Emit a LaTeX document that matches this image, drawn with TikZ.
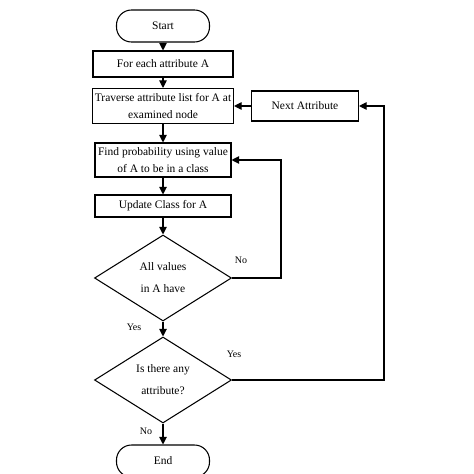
\documentclass[tikz,border=0pt]{standalone}
\usepackage{fontspec}
\setmainfont{Liberation Serif}
\usetikzlibrary{arrows.meta,shapes.geometric}

\begin{document}
\begin{tikzpicture}[x=0.03cm,y=-0.03cm,line width=0.9pt,
		font=\fontsize{9.8}{14.5}\selectfont,
		>={Triangle[length=6.5pt,width=6.5pt]},
		box/.style={draw,rectangle,align=center,inner sep=0pt},
		terminal/.style={draw,rectangle,rounded corners=0.45cm,minimum width=2.79cm,minimum height=0.96cm,inner sep=0pt},
		decision/.style={draw,diamond,aspect=1.6,align=center,inner sep=0pt,minimum width=4.11cm,minimum height=2.58cm,
			font=\fontsize{9.8}{18.7}\selectfont},
		answer/.style={font=\fontsize{8.5}{10}\selectfont}]
		\useasboundingbox (0,0) rectangle (474,473);
		\node[terminal]                                         (Start)       at (163,26)  {Start};
		\node[box,minimum width=4.2cm,minimum height=0.78cm]    (ForEach)     at (163,64)  {For each attribute A};
		\node[box,minimum width=4.23cm,minimum height=1.05cm]   (Traverse)    at (163,106) {Traverse attribute list for A at \\ examined node};
		\node[box,minimum width=3.21cm,minimum height=0.9cm]    (NextAttr)    at (305,106) {Next Attribute};
		\node[box,minimum width=4.08cm,minimum height=1.02cm]   (FindProb)    at (163,160) {Find probability using value \\ of A to be in a class};
		\node[box,minimum width=4.08cm,minimum height=0.66cm]   (UpdateClass) at (163,206) {Update Class for A};
		\node[decision]                                         (AllValues)   at (163,278) {All values \\ in A have};
		\node[decision]                                         (AnyAttr)     at (163,380) {Is there any \\ attribute?};
		\node[terminal]                                         (End)         at (163,461) {End};
		\coordinate (NoCorner)  at (281,278);
		\coordinate (YesCorner) at (384,380);

		\path[->] (Start)       edge (ForEach)
		          (ForEach)     edge (Traverse)
		          (Traverse)    edge (FindProb)
		          (FindProb)    edge (UpdateClass)
		          (UpdateClass) edge (AllValues)
		          (AllValues)   edge (AnyAttr)
		          (AnyAttr)     edge (End)
		          (NextAttr)    edge (Traverse);
		\draw[->] (AllValues) -- (NoCorner)  |- (FindProb);
		\draw[->] (AnyAttr)   -- (YesCorner) |- (NextAttr);

		\node[answer] (NoLoop)   at (241,260) {No};
		\node[answer] (YesDown)  at (134,327) {Yes};
		\node[answer] (YesNext)  at (234,354) {Yes};
		\node[answer] (NoEnd)    at (146,431) {No};
	\end{tikzpicture}
\end{document}
